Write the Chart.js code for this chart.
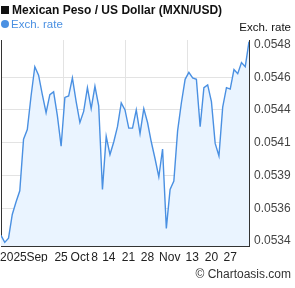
<!DOCTYPE html>
<html>
<head>
<meta charset="utf-8">
<script src="https://cdn.jsdelivr.net/npm/chart.js@4/dist/chart.umd.min.js"></script>
<style>
  body { margin: 0; background: #fff; font-family: "Liberation Sans", Arial, sans-serif; }
  #wrap { position: relative; width: 295px; height: 288px; }
  #chart { position: absolute; left: 0; top: 0; }
  .title { position: absolute; left: 1px; top: 3px; font-size: 12px; font-weight: bold; color: #111; white-space: nowrap; }
  .title .sq { display: inline-block; width: 8px; height: 8px; background: #111; margin-right: 3px; }
  .legend { position: absolute; left: 1px; top: 18px; font-size: 11.5px; color: #4a90e2; white-space: nowrap; }
  .legend .dot { display: inline-block; width: 8px; height: 8px; border-radius: 50%; background: #4a90e2; margin-right: 2px; }
  .ytitle { position: absolute; right: 4px; top: 21px; font-size: 11.5px; color: #111; }
  .credit { position: absolute; right: 4px; top: 267px; font-size: 12px; color: #333; }
</style>
</head>
<body>
<div id="wrap">
  <canvas id="chart" width="295" height="288"></canvas>
  <div class="title"><span class="sq"></span>Mexican Peso / US Dollar (MXN/USD)</div>
  <div class="legend"><span class="dot"></span>Exch. rate</div>
  <div class="ytitle">Exch. rate</div>
  <div class="credit">© Chartoasis.com</div>
</div>
<script>
// ==================================================
// DATA (daily rates, Sep 3 - Dec 4 2025, trading days)
// ==================================================
const rates = [
  0.05345, 0.05340, 0.05343, 0.05360, 0.05369, 0.05377, 0.05414, 0.05421,
  0.05445, 0.05466, 0.05460, 0.05446, 0.05433, 0.05446, 0.05448, 0.05431,
  0.05409, 0.05444, 0.05445, 0.05458, 0.05441, 0.05426, 0.05434, 0.05451,
  0.05436, 0.05452, 0.05438, 0.05378, 0.05416, 0.05403, 0.05412, 0.05423,
  0.05440, 0.05435, 0.05422, 0.05422, 0.05435, 0.05418, 0.05436, 0.05426,
  0.05412, 0.05400, 0.05387, 0.05407, 0.05350, 0.05378, 0.05384, 0.05420,
  0.05440, 0.05457, 0.05462, 0.05458, 0.05457, 0.05423, 0.05451, 0.05453,
  0.05441, 0.05411, 0.05402, 0.05437, 0.05451, 0.05450, 0.05464, 0.05461,
  0.05469, 0.05466, 0.05484
];

// x tick labels and where they sit (in trading-day index)
const xTickLabels = ["2025", "Sep", "25", "Oct", "8", "14", "21", "28", "Nov", "13", "20", "27"];
const xTickAt = [3.3, 9.6, 16, 21, 24.9, 28.7, 33.9, 39, 44.9, 50.9, 56, 61];

// y tick labels and their values
const yTickLabels = ["0.0534", "0.0536", "0.0539", "0.0541", "0.0544", "0.0546", "0.0548"];
const yTickVals = [0.05341, 0.053645, 0.05388, 0.054115, 0.05435, 0.054585, 0.05482];
const yMin = 0.053374;
const yMax = 0.054852;

// vertical grid at quarters of the range
const xGridAt = [16.5, 33, 49.5];

// ==================================================
// CHART
// ==================================================
const points = rates.map((v, i) => ({ x: i, y: v }));
const lastIdx = rates.length - 1;

const ctx = document.getElementById("chart").getContext("2d");
const myChart = new Chart(ctx, {
  type: "line",
  data: {
    datasets: [
      {
        label: "Exch. rate",
        data: points,
        borderColor: "#4a90e2",
        backgroundColor: "#eaf4ff",
        borderWidth: 1.4,
        fill: "start",
        pointRadius: 0,
        tension: 0,
      },
    ],
  },
  options: {
    responsive: false,
    animation: false,
    layout: { padding: { left: 0, top: 40, right: 0, bottom: 26 } },
    plugins: { legend: { display: false }, tooltip: { enabled: false } },
    scales: {
      x: {
        type: "linear",
        min: 0,
        max: lastIdx,
        grid: { display: false, drawTicks: false },
        border: { display: true, color: "#333", width: 1 },
        afterBuildTicks: (axis) => {
          axis.ticks = xTickAt.map((v) => ({ value: v }));
        },
        afterFit: (axis) => {
          axis.height = 16;
          axis.paddingLeft = 0;
          axis.paddingRight = 0;
        },
        ticks: {
          autoSkip: false,
          maxRotation: 0,
          padding: 4,
          color: "#222",
          font: { family: "Liberation Sans", size: 12 },
          callback: (value, index) => xTickLabels[index],
        },
      },
      xg: {
        type: "linear",
        position: "top",
        min: 0,
        max: lastIdx,
        afterBuildTicks: (axis) => {
          axis.ticks = xGridAt.map((v) => ({ value: v }));
        },
        afterFit: (axis) => {
          axis.height = 0;
          axis.paddingLeft = 0;
          axis.paddingRight = 0;
        },
        grid: { color: "#e3e3e3", lineWidth: 1, drawTicks: false },
        border: { display: false },
        ticks: { display: false },
      },
      y: {
        position: "right",
        min: yMin,
        max: yMax,
        afterBuildTicks: (axis) => {
          axis.ticks = yTickVals.map((v) => ({ value: v }));
        },
        afterFit: (axis) => {
          axis.width = 46;
        },
        grid: {
          drawTicks: false,
          color: (c) =>
            c.index === 0 || c.index === yTickVals.length - 1
              ? "rgba(0,0,0,0)"
              : "#e3e3e3",
        },
        border: { display: true, color: "#333", width: 1 },
        ticks: {
          padding: 5,
          color: "#444",
          font: { family: "Liberation Sans", size: 12 },
          callback: (value, index) => yTickLabels[index],
        },
      },
      yl: {
        position: "left",
        min: yMin,
        max: yMax,
        afterFit: (axis) => {
          axis.width = 1;
        },
        grid: { display: false },
        border: { display: true, color: "#333", width: 1 },
        ticks: { display: false },
      },
    },
  },
});
</script>
</body>
</html>
